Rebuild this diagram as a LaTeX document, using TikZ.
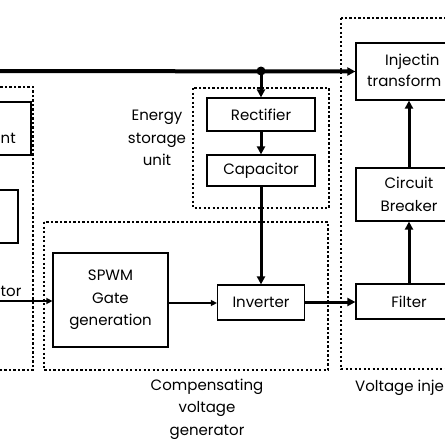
\documentclass[tikz,border=0pt]{standalone}
\usepackage{fontspec}
\setmainfont{Poppins}
\usetikzlibrary{arrows.meta}

\begin{document}
\begin{tikzpicture} [x=1pt, y=-1pt, >={Triangle[length=8pt, width=8pt]},
  block/.style={rectangle, draw, line width=1.2pt, inner sep=0pt, align=center},
  group/.style={draw, line width=2.3pt, dash pattern=on 2.3pt off 2.2pt},
  label/.style={inner sep=0pt, align=center},
  bus/.style={line width=3pt},
  thin/.style={line width=1.3pt, >={Triangle[length=6pt, width=6pt]}}]
\useasboundingbox (0,0) rectangle (445,445);
\clip (0,0) rectangle (445,445);
{\fontsize{15}{22.5}\selectfont
  %% Groups
  \draw [group] (-50,87) rectangle (33,370);
  \draw [group] (193,88) rectangle (329,208);
  \draw [group] (44,222) rectangle (328,370);
  \draw [group] (341,18) rectangle (470,369);
  %% Blocks
  \node [block, minimum width=122pt, minimum height=53pt] (meas) at (-30,128.5) {};
  \node [block, minimum width=100pt, minimum height=53pt] (ctrl) at (-32,216.5) {};
  \node [block, minimum width=108pt, minimum height=33pt] (rect) at (261,114.5) {Rectifier};
  \node [block, minimum width=108pt, minimum height=31pt] (cap) at (261,170.5) {Capacitor};
  \node [block, minimum width=115pt, minimum height=94pt] (spwm) at (110.5,300) {SPWM\\Gate\\generation};
  \node [block, minimum width=87pt, minimum height=35pt] (inv) at (261,302.5) {Inverter};
  \node [block, minimum width=128pt, minimum height=57pt] (inj) at (420,71.5) {};
  \node [block, minimum width=106pt, minimum height=53pt] (cb) at (409,194.5) {Circuit\\Breaker};
  \node [block, minimum width=106pt, minimum height=35pt] (filter) at (409,301.5) {Filter};
  %% Texts
  \node [label, anchor=west] (injA) at (385,62) {Injectin};
  \node [label, anchor=west] (injB) at (367,81) {transform};
  \node [label, anchor=west] (measT) at (0.5,138) {nt};
  \node [label, anchor=west] (ctrlT) at (0.5,291) {tor};
  \node [label] (esu) at (157,138) {Energy\\storage\\unit};
  \node [label] (cvg) at (207,409) {Compensating\\voltage\\generator};
  \node [label, anchor=west] (vij) at (355,388) {Voltage inje};
  %% Edges
  \coordinate (busin) at (0,71);
  \coordinate (tap) at (261,71);
  \coordinate (ctrlin) at (0,301);
  \draw [->, line width=4pt] (busin) -- (inj.west);
  \fill (tap) circle (4.5pt);
  \draw [->, bus] (tap) -- (rect.north);
  \draw [->, bus] (rect) -- (cap);
  \draw [->, bus] (cap) -- (inv);
  \draw [->, bus] (inv.east |- 0,302) -- (filter.west |- 0,302);
  \draw [->, bus] (filter) -- (cb);
  \draw [->, bus] (cb) -- (inj.south -| cb);
  \draw [->, thin] (spwm.east |- 0,303) -- (inv.west |- 0,303);
  \draw [->, thin] (ctrlin) -- (spwm.west |- ctrlin);
}
\end{tikzpicture}
\end{document}
